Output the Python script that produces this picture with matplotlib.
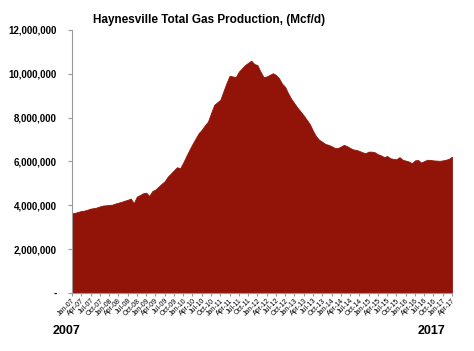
import matplotlib
matplotlib.use("Agg")
import matplotlib.pyplot as plt
from matplotlib.ticker import FuncFormatter
import numpy as np

plt.rcParams['font.family'] = ['Liberation Sans', 'DejaVu Sans']

# Monthly production, Jan-2007 .. Apr-2017, in million Mcf/d
production_m = [
    3.64, 3.66, 3.70, 3.74, 3.76, 3.80, 3.85, 3.87, 3.90, 3.95, 3.99, 4.00,
    4.02, 4.03, 4.08, 4.12, 4.16, 4.21, 4.25, 4.31, 4.10, 4.40, 4.47, 4.55,
    4.58, 4.43, 4.65, 4.72, 4.85, 4.98, 5.10, 5.31, 5.45, 5.60, 5.74, 5.69,
    5.95, 6.25, 6.53, 6.80, 7.05, 7.29, 7.45, 7.65, 7.82, 8.20, 8.58, 8.70,
    8.81, 9.20, 9.58, 9.91, 9.88, 9.85, 10.10, 10.25, 10.40, 10.50, 10.60, 10.45,
    10.40, 10.10, 9.85, 9.88, 9.95, 10.03, 9.95, 9.80, 9.55, 9.40, 9.10, 8.85,
    8.65, 8.45, 8.28, 8.10, 7.90, 7.70, 7.40, 7.15, 6.99, 6.90, 6.80, 6.76,
    6.70, 6.62, 6.61, 6.68, 6.76, 6.70, 6.62, 6.55, 6.53, 6.48, 6.42, 6.38,
    6.45, 6.45, 6.42, 6.33, 6.28, 6.20, 6.25, 6.15, 6.12, 6.10, 6.20, 6.08,
    6.04, 6.00, 5.92, 6.05, 6.07, 5.95, 6.02, 6.08, 6.07, 6.05, 6.04, 6.03,
    6.05, 6.08, 6.12, 6.22,
]
month_names = ["Jan", "Apr", "Jul", "Oct"]
years = list(range(2007, 2018))
tick_labels = [f"{m}-{str(y)[2:]}" for y in years for m in month_names][:42]
y_ticks = [0, 2000000, 4000000, 6000000, 8000000, 10000000, 12000000]

values = np.array(production_m) * 1e6
x = np.arange(len(values))

fig = plt.figure(figsize=(4.74, 3.51), dpi=100)
ax = fig.add_axes([72/474, 1-293/351, 380/474, 263/351])
color = "#921409"
ax.fill_between(x, values, 0, color=color, linewidth=0.6, edgecolor=color)
ax.set_xlim(0, len(values)-1)
ax.set_ylim(0, 12000000)
ax.set_yticks(y_ticks)
ax.yaxis.set_major_formatter(FuncFormatter(lambda v, p: "-" if v == 0 else f"{int(v):,}"))
ax.set_xticks(np.arange(0, len(values), 3))
ax.set_xticklabels(tick_labels, rotation=45, ha='right', rotation_mode='anchor', fontsize=5)
for lbl in ax.get_yticklabels():
    lbl.set_fontweight('bold')
    lbl.set_fontsize(7)
for s in ['top', 'right']:
    ax.spines[s].set_visible(False)
for s in ['left', 'bottom']:
    ax.spines[s].set_color('#999999')
    ax.spines[s].set_linewidth(0.8)
ax.tick_params(axis='y', length=3, color='#999999', pad=8)
ax.tick_params(axis='x', length=2, color='#999999', pad=1)

fig.text(93/474, 1-20/351, "Haynesville Total Gas Production, (Mcf/d)", fontsize=8.5,
         fontweight='bold', va='center', ha='left')
fig.text(53/474, 1-331/351, "2007", fontsize=9, fontweight='bold', va='center', ha='left')
fig.text(418/474, 1-331/351, "2017", fontsize=9, fontweight='bold', va='center', ha='left')

fig.savefig("out.png", dpi=100)
